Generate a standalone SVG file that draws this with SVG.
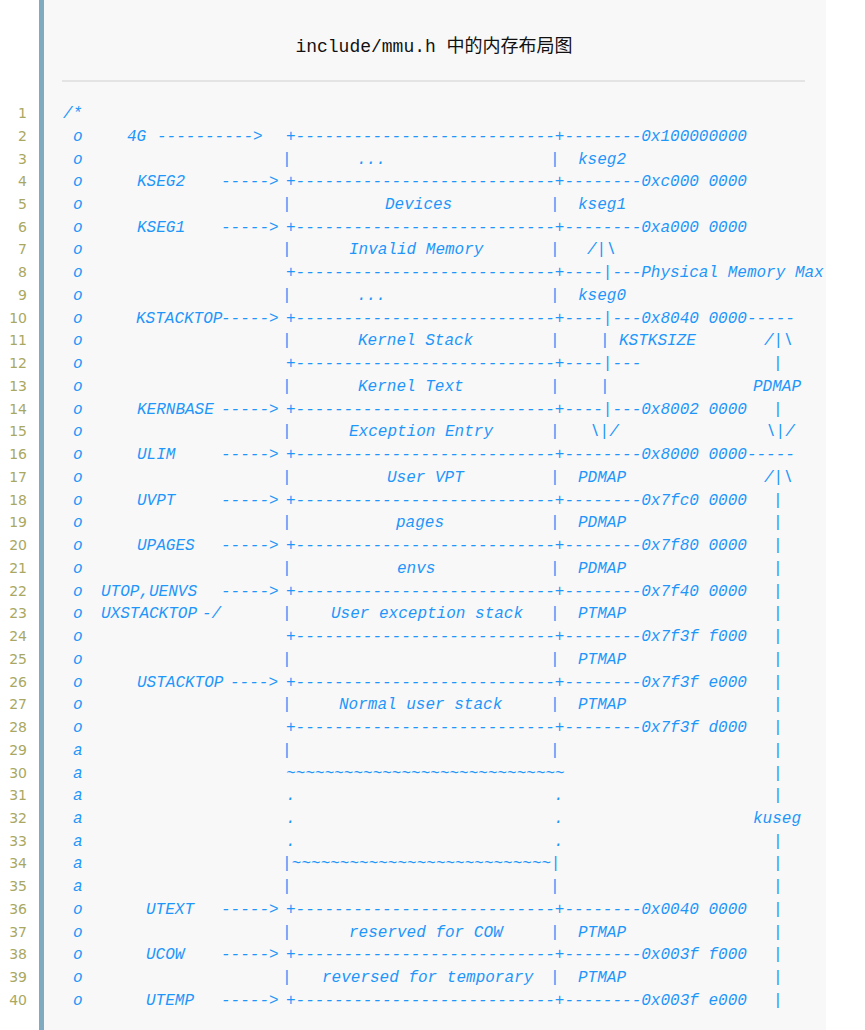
<svg xmlns="http://www.w3.org/2000/svg" width="865" height="1030" viewBox="0 0 865 1030">
<style>
.c{font-family:"Liberation Mono",monospace;font-style:italic;font-size:16px;fill:#1e96fa;white-space:pre}
.n{font-family:"DejaVu Sans",sans-serif;font-size:14px;fill:#a9a862;text-anchor:end}
</style>
<rect width="865" height="1030" fill="#ffffff"/>
<rect x="44" y="0" width="782" height="1030" fill="#f8f8f8"/>
<rect x="39" y="0" width="5" height="1030" fill="#80aac0"/>
<text x="434" y="52" text-anchor="middle" font-size="18" fill="#111"><tspan font-family="Liberation Mono, monospace">include/mmu.h </tspan><tspan font-family="Noto Sans CJK SC, sans-serif">中的内存布局图</tspan></text>
<line x1="62" y1="81" x2="805" y2="81" stroke="#e4e4e4" stroke-width="2"/>
<g id="linenos" class="n">
<text x="27" y="118">1</text><text x="27" y="140.7">2</text><text x="27" y="163.5">3</text><text x="27" y="186.2">4</text><text x="27" y="209">5</text><text x="27" y="231.7">6</text><text x="27" y="254.4">7</text><text x="27" y="277.2">8</text><text x="27" y="299.9">9</text><text x="27" y="322.7">10</text>
<text x="27" y="345.4">11</text><text x="27" y="368.1">12</text><text x="27" y="390.9">13</text><text x="27" y="413.6">14</text><text x="27" y="436.4">15</text><text x="27" y="459.1">16</text><text x="27" y="481.8">17</text><text x="27" y="504.6">18</text><text x="27" y="527.3">19</text><text x="27" y="550.1">20</text>
<text x="27" y="572.8">21</text><text x="27" y="595.5">22</text><text x="27" y="618.3">23</text><text x="27" y="641">24</text><text x="27" y="663.8">25</text><text x="27" y="686.5">26</text><text x="27" y="709.2">27</text><text x="27" y="732">28</text><text x="27" y="754.7">29</text><text x="27" y="777.5">30</text>
<text x="27" y="800.2">31</text><text x="27" y="822.9">32</text><text x="27" y="845.7">33</text><text x="27" y="868.4">34</text><text x="27" y="891.2">35</text><text x="27" y="913.9">36</text><text x="27" y="936.6">37</text><text x="27" y="959.4">38</text><text x="27" y="982.1">39</text><text x="27" y="1004.9">40</text>
</g>
<g id="code" class="c">
<text y="118"><tspan x="63">/*</tspan></text>
<text y="140.7"><tspan x="73">o</tspan><tspan x="127">4G</tspan><tspan x="157">----------&gt;</tspan><tspan x="286">+---------------------------+--------0x100000000</tspan></text>
<text y="163.5"><tspan x="73">o</tspan><tspan x="282">|</tspan><tspan x="357">...</tspan><tspan x="550">|</tspan><tspan x="578">kseg2</tspan></text>
<text y="186.2"><tspan x="73">o</tspan><tspan x="137">KSEG2</tspan><tspan x="221">-----&gt;</tspan><tspan x="286">+---------------------------+--------0xc000 0000</tspan></text>
<text y="209"><tspan x="73">o</tspan><tspan x="282">|</tspan><tspan x="385">Devices</tspan><tspan x="550">|</tspan><tspan x="578">kseg1</tspan></text>
<text y="231.7"><tspan x="73">o</tspan><tspan x="137">KSEG1</tspan><tspan x="221">-----&gt;</tspan><tspan x="286">+---------------------------+--------0xa000 0000</tspan></text>
<text y="254.4"><tspan x="73">o</tspan><tspan x="282">|</tspan><tspan x="349">Invalid Memory</tspan><tspan x="550">|</tspan><tspan x="587">/|\</tspan></text>
<text y="277.2"><tspan x="73">o</tspan><tspan x="286">+---------------------------+----|---Physical Memory Max</tspan></text>
<text y="299.9"><tspan x="73">o</tspan><tspan x="282">|</tspan><tspan x="357">...</tspan><tspan x="550">|</tspan><tspan x="578">kseg0</tspan></text>
<text y="322.7"><tspan x="73">o</tspan><tspan x="136">KSTACKTOP</tspan><tspan x="221">-----&gt;</tspan><tspan x="286">+---------------------------+----|---0x8040 0000-----</tspan></text>
<text y="345.4"><tspan x="73">o</tspan><tspan x="282">|</tspan><tspan x="358">Kernel Stack</tspan><tspan x="550">|</tspan><tspan x="600">|</tspan><tspan x="619">KSTKSIZE</tspan><tspan x="764">/|\</tspan></text>
<text y="368.1"><tspan x="73">o</tspan><tspan x="286">+---------------------------+----|---</tspan><tspan x="773">|</tspan></text>
<text y="390.9"><tspan x="73">o</tspan><tspan x="282">|</tspan><tspan x="358">Kernel Text</tspan><tspan x="550">|</tspan><tspan x="600">|</tspan><tspan x="753">PDMAP</tspan></text>
<text y="413.6"><tspan x="73">o</tspan><tspan x="137">KERNBASE</tspan><tspan x="221">-----&gt;</tspan><tspan x="286">+---------------------------+----|---0x8002 0000</tspan><tspan x="773">|</tspan></text>
<text y="436.4"><tspan x="73">o</tspan><tspan x="282">|</tspan><tspan x="349">Exception Entry</tspan><tspan x="550">|</tspan><tspan x="590">\|/</tspan><tspan x="766">\|/</tspan></text>
<text y="459.1"><tspan x="73">o</tspan><tspan x="137">ULIM</tspan><tspan x="221">-----&gt;</tspan><tspan x="286">+---------------------------+--------0x8000 0000-----</tspan></text>
<text y="481.8"><tspan x="73">o</tspan><tspan x="282">|</tspan><tspan x="387">User VPT</tspan><tspan x="550">|</tspan><tspan x="578">PDMAP</tspan><tspan x="764">/|\</tspan></text>
<text y="504.6"><tspan x="73">o</tspan><tspan x="137">UVPT</tspan><tspan x="221">-----&gt;</tspan><tspan x="286">+---------------------------+--------0x7fc0 0000</tspan><tspan x="773">|</tspan></text>
<text y="527.3"><tspan x="73">o</tspan><tspan x="282">|</tspan><tspan x="396">pages</tspan><tspan x="550">|</tspan><tspan x="578">PDMAP</tspan><tspan x="773">|</tspan></text>
<text y="550.1"><tspan x="73">o</tspan><tspan x="137">UPAGES</tspan><tspan x="221">-----&gt;</tspan><tspan x="286">+---------------------------+--------0x7f80 0000</tspan><tspan x="773">|</tspan></text>
<text y="572.8"><tspan x="73">o</tspan><tspan x="282">|</tspan><tspan x="397">envs</tspan><tspan x="550">|</tspan><tspan x="578">PDMAP</tspan><tspan x="773">|</tspan></text>
<text y="595.5"><tspan x="73">o</tspan><tspan x="101">UTOP,UENVS</tspan><tspan x="221">-----&gt;</tspan><tspan x="286">+---------------------------+--------0x7f40 0000</tspan><tspan x="773">|</tspan></text>
<text y="618.3"><tspan x="73">o</tspan><tspan x="101">UXSTACKTOP</tspan><tspan x="202">-/</tspan><tspan x="282">|</tspan><tspan x="331">User exception stack</tspan><tspan x="550">|</tspan><tspan x="578">PTMAP</tspan><tspan x="773">|</tspan></text>
<text y="641"><tspan x="73">o</tspan><tspan x="286">+---------------------------+--------0x7f3f f000</tspan><tspan x="773">|</tspan></text>
<text y="663.8"><tspan x="73">o</tspan><tspan x="282">|</tspan><tspan x="550">|</tspan><tspan x="578">PTMAP</tspan><tspan x="773">|</tspan></text>
<text y="686.5"><tspan x="73">o</tspan><tspan x="137">USTACKTOP</tspan><tspan x="230">----&gt;</tspan><tspan x="286">+---------------------------+--------0x7f3f e000</tspan><tspan x="773">|</tspan></text>
<text y="709.2"><tspan x="73">o</tspan><tspan x="282">|</tspan><tspan x="339">Normal user stack</tspan><tspan x="550">|</tspan><tspan x="578">PTMAP</tspan><tspan x="773">|</tspan></text>
<text y="732"><tspan x="73">o</tspan><tspan x="286">+---------------------------+--------0x7f3f d000</tspan><tspan x="773">|</tspan></text>
<text y="754.7"><tspan x="73">a</tspan><tspan x="282">|</tspan><tspan x="550">|</tspan><tspan x="773">|</tspan></text>
<text y="777.5"><tspan x="73">a</tspan><tspan x="286">~~~~~~~~~~~~~~~~~~~~~~~~~~~~~</tspan><tspan x="773">|</tspan></text>
<text y="800.2"><tspan x="73">a</tspan><tspan x="286">.</tspan><tspan x="554">.</tspan><tspan x="773">|</tspan></text>
<text y="822.9"><tspan x="73">a</tspan><tspan x="286">.</tspan><tspan x="554">.</tspan><tspan x="753">kuseg</tspan></text>
<text y="845.7"><tspan x="73">a</tspan><tspan x="286">.</tspan><tspan x="554">.</tspan><tspan x="773">|</tspan></text>
<text y="868.4"><tspan x="73">a</tspan><tspan x="282">|~~~~~~~~~~~~~~~~~~~~~~~~~~~|</tspan><tspan x="773">|</tspan></text>
<text y="891.2"><tspan x="73">a</tspan><tspan x="282">|</tspan><tspan x="550">|</tspan><tspan x="773">|</tspan></text>
<text y="913.9"><tspan x="73">o</tspan><tspan x="146">UTEXT</tspan><tspan x="221">-----&gt;</tspan><tspan x="286">+---------------------------+--------0x0040 0000</tspan><tspan x="773">|</tspan></text>
<text y="936.6"><tspan x="73">o</tspan><tspan x="282">|</tspan><tspan x="349">reserved for COW</tspan><tspan x="550">|</tspan><tspan x="578">PTMAP</tspan><tspan x="773">|</tspan></text>
<text y="959.4"><tspan x="73">o</tspan><tspan x="146">UCOW</tspan><tspan x="221">-----&gt;</tspan><tspan x="286">+---------------------------+--------0x003f f000</tspan><tspan x="773">|</tspan></text>
<text y="982.1"><tspan x="73">o</tspan><tspan x="282">|</tspan><tspan x="322">reversed for temporary</tspan><tspan x="550">|</tspan><tspan x="578">PTMAP</tspan><tspan x="773">|</tspan></text>
<text y="1004.9"><tspan x="73">o</tspan><tspan x="146">UTEMP</tspan><tspan x="221">-----&gt;</tspan><tspan x="286">+---------------------------+--------0x003f e000</tspan><tspan x="773">|</tspan></text>
</g>
</svg>
